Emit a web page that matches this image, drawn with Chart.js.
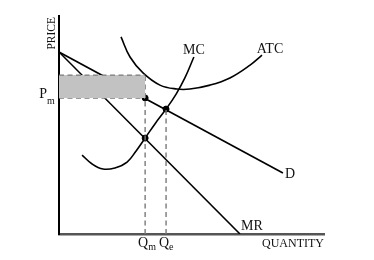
<!DOCTYPE html>
<html>
<head>
<meta charset="utf-8">
<script src="https://cdn.jsdelivr.net/npm/chart.js@4/dist/chart.umd.min.js"></script>
<style>
  html, body { margin: 0; padding: 0; background: #ffffff; }
  canvas { display: block; }
</style>
</head>
<body>
<canvas id="c" width="374" height="260"></canvas>
<script>
// ---- data (economic units) ----
const demandQ = [0, 8.45];
const demandP = [8.35, 2.80];
const mrQ = [0, 6.83];
const mrP = [8.35, 0];
const mcQ = [0.87, 1.25, 1.66, 2.11, 2.57, 2.91, 3.25, 3.62, 4.04, 4.42, 4.75, 5.09];
const mcP = [3.62, 3.21, 2.98, 3.03, 3.30, 3.81, 4.40, 5.05, 5.73, 6.42, 7.16, 8.12];
const atcQ = [2.34, 2.68, 3.17, 3.81, 4.45, 4.94, 5.70, 6.45, 7.21, 7.66];
const atcP = [9.04, 8.12, 7.39, 6.83, 6.65, 6.65, 6.83, 7.16, 7.75, 8.21];
const Qm = 3.25, Qe = 4.04;
const Pm = 6.24, ATCm = 7.29, Pe = 5.73, MRm = 4.40;
const curveLabels = ['MC', 'ATC', 'D', 'MR'];
const axisLabels = ['PRICE', 'QUANTITY'];

const pts = (xs, ys) => xs.map((x, i) => ({ x: x, y: ys[i] }));
const dash = [5, 3.5];
const grey = '#7a7a7a';

const datasets = [
  { // shaded profit rectangle
    data: pts([0, Qm], [ATCm, ATCm]), showLine: true, fill: { value: Pm },
    backgroundColor: '#c2c2c2', borderColor: grey, borderWidth: 1.4, borderDash: dash, pointRadius: 0
  },
  { data: pts([0, Qm], [Pm, Pm]), showLine: true, borderColor: grey, borderWidth: 1.4, borderDash: dash, pointRadius: 0 },
  { data: pts([Qm, Qm], [0, ATCm]), showLine: true, borderColor: grey, borderWidth: 1.4, borderDash: dash, pointRadius: 0 },
  { data: pts([Qe, Qe], [0, Pe]), showLine: true, borderColor: grey, borderWidth: 1.4, borderDash: dash, pointRadius: 0 },
  { data: pts(demandQ, demandP), showLine: true, borderColor: '#000', borderWidth: 1.6, pointRadius: 0 },
  { data: pts(mrQ, mrP), showLine: true, borderColor: '#000', borderWidth: 1.6, pointRadius: 0 },
  { data: pts(mcQ, mcP), showLine: true, borderColor: '#000', borderWidth: 1.6, pointRadius: 0, tension: 0.4 },
  { data: pts(atcQ, atcP), showLine: true, borderColor: '#000', borderWidth: 1.6, pointRadius: 0, tension: 0.4 },
  { data: pts([Qm, Qe, Qm], [Pm, Pe, MRm]), showLine: false, pointRadius: 3, pointBackgroundColor: '#000', pointBorderColor: '#000' }
];

const SERIF = '"Liberation Serif", "DejaVu Serif", serif';

const labelPlugin = {
  id: 'labels',
  afterDatasetsDraw(chart) {
    const ctx = chart.ctx;
    const xs = chart.scales.x, ys = chart.scales.y;
    const px = v => xs.getPixelForValue(v), py = v => ys.getPixelForValue(v);
    ctx.save();
    ctx.fillStyle = '#111';
    ctx.textBaseline = 'alphabetic';
    ctx.font = '14px ' + SERIF;
    // curve labels
    ctx.textAlign = 'center';
    ctx.fillText(curveLabels[0], px(mcQ[mcQ.length - 1]), py(mcP[mcP.length - 1]) - 3);
    ctx.fillText(curveLabels[1], px(atcQ[atcQ.length - 1]) + 8, py(atcP[atcP.length - 1]) - 2);
    ctx.textAlign = 'left';
    ctx.fillText(curveLabels[2], px(demandQ[1]) + 2, py(demandP[1]) + 5);
    ctx.fillText(curveLabels[3], px(mrQ[1]) + 1, py(mrP[1]) - 4);
    // axis titles
    ctx.font = '12px ' + SERIF;
    ctx.textAlign = 'right';
    ctx.fillText(axisLabels[1], xs.right, ys.bottom + 13);
    ctx.save();
    ctx.translate(xs.left - 4, ys.top + 1);
    ctx.rotate(-Math.PI / 2);
    ctx.textAlign = 'right';
    ctx.font = '11.5px ' + SERIF;
    ctx.fillText(axisLabels[0], 0, 0);
    ctx.restore();
    // Pm
    ctx.font = '14px ' + SERIF;
    ctx.textAlign = 'right';
    ctx.fillText('P', xs.left - 12, py(Pm) + 0.5);
    ctx.font = '10px ' + SERIF;
    ctx.textAlign = 'left';
    ctx.fillText('m', xs.left - 12, py(Pm) + 6);
    // Qm, Qe
    const qLab = (q, sub) => {
      ctx.font = '14px ' + SERIF;
      ctx.textAlign = 'right';
      ctx.fillText('Q', px(q) + 3, ys.bottom + 13);
      ctx.font = '10px ' + SERIF;
      ctx.textAlign = 'left';
      ctx.fillText(sub, px(q) + 3, ys.bottom + 16);
    };
    qLab(Qm, 'm');
    qLab(Qe, 'e');
    ctx.restore();
  }
};

new Chart(document.getElementById('c'), {
  type: 'scatter',
  data: { datasets: datasets },
  options: {
    responsive: false,
    animation: false,
    events: [],
    layout: { padding: { left: 59, right: 50, top: 16, bottom: 26 } },
    plugins: { legend: { display: false }, tooltip: { enabled: false } },
    elements: { line: { fill: false } },
    scales: {
      x: {
        type: 'linear', min: 0, max: 10,
        ticks: { display: false }, grid: { display: false, drawTicks: false },
        border: { display: true, color: '#555', width: 2.5 }
      },
      y: {
        type: 'linear', min: 0, max: 10,
        ticks: { display: false }, grid: { display: false, drawTicks: false },
        border: { display: true, color: '#000', width: 2 }
      }
    }
  },
  plugins: [labelPlugin]
});
</script>
</body>
</html>
